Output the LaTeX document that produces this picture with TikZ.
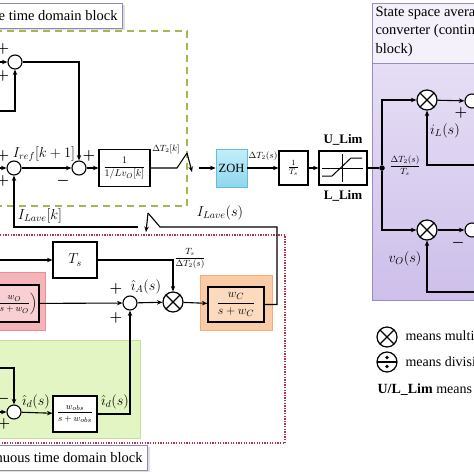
\documentclass[tikz,border=0pt]{standalone}
\usepackage{amsmath}
\usepackage{fontspec}
\setmainfont{Liberation Serif}
\usetikzlibrary{arrows.meta,shadows}
\definecolor{gdash}{HTML}{A9B550}
\definecolor{rdot}{HTML}{B8344C}
\definecolor{purpT}{HTML}{E6DEF5}
\definecolor{purpB}{HTML}{CDBFEA}
\definecolor{purpE}{HTML}{9A8CBE}
\definecolor{purpH}{HTML}{F4F1FA}
\definecolor{zohT}{HTML}{C4EEFA}
\definecolor{zohB}{HTML}{8ED6EE}
\definecolor{zohE}{HTML}{6CB8D8}
\definecolor{pinkO}{HTML}{F4B4BA}
\definecolor{pinkE}{HTML}{E89098}
\definecolor{pinkI}{HTML}{F8D0D4}
\definecolor{orO}{HTML}{F9CBA6}
\definecolor{orE}{HTML}{EFAE7C}
\definecolor{orI}{HTML}{FCDABE}
\definecolor{grF}{HTML}{E4F5C4}
\definecolor{grE}{HTML}{C6E098}
\definecolor{tbE}{HTML}{8C8AB4}
\begin{document}
\begin{tikzpicture}[x=1pt,y=-1pt,
  line width=1.1pt,
  >={Stealth[length=5.5pt,width=4.5pt]},
  blk/.style={draw=black,line width=1.1pt,fill=white,inner sep=0pt},
  sumc/.style={circle,draw,line width=1.1pt,minimum size=14pt,inner sep=0pt,fill=white},
  mulc/.style={circle,draw,line width=1.2pt,minimum size=20pt,inner sep=0pt,fill=white,
    path picture={\draw[black,line width=1.2pt] (path picture bounding box.south west)--(path picture bounding box.north east)
      (path picture bounding box.north west)--(path picture bounding box.south east);}},
  divc/.style={circle,draw,line width=1.2pt,minimum size=20pt,inner sep=0pt,fill=white,
    path picture={\draw[black,line width=1.2pt] (path picture bounding box.west)--(path picture bounding box.east);
      \fill[black] ([yshift=4.5pt]path picture bounding box.center) circle (1.8pt);
      \fill[black] ([yshift=-4.5pt]path picture bounding box.center) circle (1.8pt);}},
  lb/.style={inner sep=0pt,font=\fontsize{14}{16}\selectfont},
  sm/.style={inner sep=0pt,font=\fontsize{9}{11}\selectfont},
  sg/.style={inner sep=0pt,font=\fontsize{15}{15}\selectfont\boldmath},
  tbox/.style={draw=tbE,fill=white,line width=1pt,minimum height=25pt,inner xsep=5pt,
    font=\fontsize{14.5}{16}\selectfont,drop shadow={opacity=0.25,shadow xshift=2pt,shadow yshift=-2pt}},
  lg/.style={inner sep=0pt,font=\fontsize{14}{16}\selectfont},
  gdl/.style={draw=gdash,line width=1.3pt,dash pattern=on 7pt off 5pt},
  rdl/.style={draw=rdot,line width=1.3pt,dash pattern=on 1.3pt off 1.3pt}
]
\useasboundingbox (0,0) rectangle (474,474);
\clip (0,0) rectangle (474,474);
\fill[white] (0,0) rectangle (474,474);

% ---------- region frames ----------
\draw[gdl] (-5,31) -- (187,31) -- (187,206) -- (-5,206);
\draw[rdl] (-5,235) -- (285,235) -- (285,443) -- (-5,443);

% purple converter block
\shade[top color=purpT,bottom color=purpB] (372,63) rectangle (480,300);
\fill[purpH] (372,3) rectangle (480,63);
\draw[draw=purpE,line width=1pt] (372,3) rectangle (480,300);
\draw[draw=purpE,line width=1pt] (372,63) -- (480,63);
\node[anchor=north west,align=left,inner sep=0pt,font=\fontsize{14.5}{18.5}\selectfont] (ptitle) at (375,6)
  {State space average\\converter (continuous\\block)};

% ---------- top-left discrete part ----------
\node[tbox,anchor=east] (tt1) at (123,15.5) {Discrete time domain block};

\node[sumc] (s1) at (15,62) {};
\coordinate (in1) at (-2,62);
\draw[->] (in1) -- (s1);
\node[sg] (p1) at (3,49) {$+$};
\node[sg] (p2) at (3,76) {$+$};
\coordinate (fb1) at (-2,111);
\draw[->] (fb1) -| (s1);

\node[sumc] (s2) at (79,168) {};
\draw[->] (s1) -| (s2);
\node[sg] (p3) at (89,156) {$+$};

\node[sumc] (s3) at (14,168) {};
\coordinate (in3) at (-2,168);
\draw[->] (in3) -- (s3);
\node[sg] (p4) at (3,156) {$+$};
\node[sg] (p5) at (3,181) {$+$};
\draw[->] (s3) -- (s2);
\node[lb] (lref) at (44,154) {$I_{ref}[k+1]$};
\node[sg] (m1s) at (63,181) {$-$};

\node[blk,minimum width=51pt,minimum height=37pt,font=\fontsize{10}{12}\selectfont] (lv) at (124.5,168) {$\dfrac{1}{1/Lv_O[k]}$};
\draw[->] (s2) -- (lv);

% switch 1
\coordinate (w1a) at (177,168);
\coordinate (w1b) at (187,153);
\coordinate (w1c) at (192,172);
\draw (lv) -- (w1a) -- (w1b);
\draw[->] (w1b) -- (w1c);
\node[sm] (ldt1) at (166,149) {$\Delta T_2[k]$};
\coordinate (w1d) at (199,168);

\node[draw=zohE,line width=0.8pt,top color=zohT,bottom color=zohB,minimum width=31pt,minimum height=38pt,inner sep=0pt,
  font=\fontsize{12.5}{14}\selectfont] (zoh) at (231.5,168) {ZOH};
\draw[->] (w1d) -- (zoh);

\node[blk,minimum width=29pt,minimum height=34pt,font=\fontsize{12}{14}\selectfont] (ts1) at (293.5,168) {$\frac{1}{T_s}$};
\draw[->] (zoh) -- (ts1);
\node[sm] (ldt2) at (263,156) {$\Delta T_2(s)$};

\node[blk,minimum width=48pt,minimum height=34pt] (sat) at (343,168) {};
\draw[line width=1pt] (322,168) -- (363,168);
\draw[line width=1pt] (342,154) -- (342,182);
\draw[line width=1pt] (322,176) -- (332,176) -- (351,158) -- (362,158);
\node[inner sep=0pt,font=\fontsize{13}{15}\selectfont] (ulim) at (343,140) {\textbf{U\_Lim}};
\node[inner sep=0pt,font=\fontsize{13}{15}\selectfont] (llim) at (343,196) {\textbf{L\_Lim}};
\draw[->] (ts1) -- (sat);

\node[circle,fill,inner sep=0pt,minimum size=5.5pt] (dot) at (382,168) {};
\draw (sat) -- (dot);

% ---------- converter internals ----------
\node[mulc] (mu1) at (427,100) {};
\node[mulc] (mu2) at (427,230) {};
\draw[->] (dot) |- (mu1);
\draw[->] (dot) |- (mu2);
\node[sumc] (s5) at (472,101) {};
\node[sumc] (s6) at (472,230) {};
\draw[->] (mu1) -- (s5);
\draw[->] (mu2) -- (s6);
\node[sg] (p6) at (461,113) {$+$};
\node[sg] (m2s) at (458,243) {$-$};
\coordinate (fbL) at (480,165);
\coordinate (fbV) at (480,292);
\draw[->] (fbL) -| (mu1);
\draw[->] (fbV) -| (mu2);
\node[lb] (liL) at (445,131) {$i_L(s)$};
\node[lb] (lvO) at (405,259) {$v_O(s)$};
\node[sm] (lfr1) at (405,166) {$\dfrac{\Delta T_2(s)}{T_s}$};

% ---------- continuous part ----------
\node[blk,minimum width=44pt,minimum height=36pt,font=\fontsize{14}{16}\selectfont] (tsb) at (75,260) {$T_s$};
\coordinate (inT) at (-2,260);
\draw[->] (inT) -- (tsb);
\node[mulc] (mu3) at (173,302) {};
\draw[->] (tsb) -| (mu3);
\node[sm] (lfr2) at (190,259) {$\dfrac{T_s}{\Delta T_2(s)}$};

\node[draw=pinkE,fill=pinkO,line width=0.8pt,minimum width=50pt,minimum height=58pt,inner sep=0pt] (pko) at (20,301) {};
\node[draw=black,fill=pinkI,line width=1.3pt,minimum width=44pt,minimum height=37pt,inner sep=0pt] (pki) at (17,303.5) {};
\node[inner sep=0pt,anchor=east,font=\fontsize{9.5}{11}\selectfont] (pkt) at (37.5,303.5) {$\left(\dfrac{w_O}{s+w_O}\right)$};

\node[sumc] (s7) at (130,303) {};
\draw[->] (pki) -- (s7);
\node[sg] (p7) at (116,289) {$+$};
\node[sg] (p8) at (116,318) {$+$};
\draw[->] (s7) -- (mu3);
\node[lb] (liA) at (146,287) {$\hat{\imath}_A(s)$};

\node[draw=orE,fill=orO,line width=0.8pt,minimum width=72pt,minimum height=55pt,inner sep=0pt] (oro) at (236,302.5) {};
\node[draw=black,fill=orI,line width=1.3pt,minimum width=56pt,minimum height=35pt,inner sep=0pt,
  font=\fontsize{13}{15}\selectfont] (ori) at (236,304.5) {$\dfrac{w_C}{s+w_C}$};
\draw[->] (mu3) -- (ori);

% switch 2 / feedback
\coordinate (oc1) at (277,227);
\coordinate (w2a) at (160,227);
\coordinate (w2b) at (148,213);
\coordinate (w2c) at (146,232);
\coordinate (w2d) at (138,227);
\draw (ori.east) -| (oc1) -- (w2a) -- (w2b);
\draw[->] (w2b) -- (w2c);
\draw[->] (w2d) -| (s3);
\node[lb] (lIk) at (40,216) {$I_{Lave}[k]$};
\node[lb] (lIs) at (220,213) {$I_{Lave}(s)$};

% green observer
\node[draw=grE,fill=grF,line width=1pt,minimum width=145pt,minimum height=98pt,inner sep=0pt] (grn) at (67.5,389) {};
\node[sumc] (s8) at (14,412) {};
\coordinate (gin) at (-2,412);
\draw[->] (gin) -- (s8);
\coordinate (gtop) at (-2,368);
\draw[->] (gtop) -| (s8);
\node[sg] (m3s) at (3,399) {$-$};
\node[sg] (p9) at (4,424) {$+$};
\node[blk,minimum width=44pt,minimum height=36pt,font=\fontsize{9.5}{11}\selectfont] (wob) at (75,414) {$\dfrac{w_{obs}}{s+w_{obs}}$};
\draw[->] (s8) -- (wob);
\node[lb] (lid1) at (36,402) {$\hat{\imath}_d(s)$};
\draw[->] (wob.east) -| (s7);
\node[lb] (lid2) at (115,402) {$\hat{\imath}_d(s)$};

\node[tbox,anchor=east] (tt2) at (148,457.5) {Continuous time domain block};

% ---------- legend ----------
\node[mulc] (lg1) at (387,337) {};
\node[lg,anchor=west] (lgt1) at (405,337) {means multiplication};
\node[divc] (lg2) at (387,362) {};
\node[lg,anchor=west] (lgt2) at (405,362) {means division};
\node[lg,anchor=west] (lgt3) at (377,390) {\textbf{U/L\_Lim} means};
\end{tikzpicture}
\end{document}
